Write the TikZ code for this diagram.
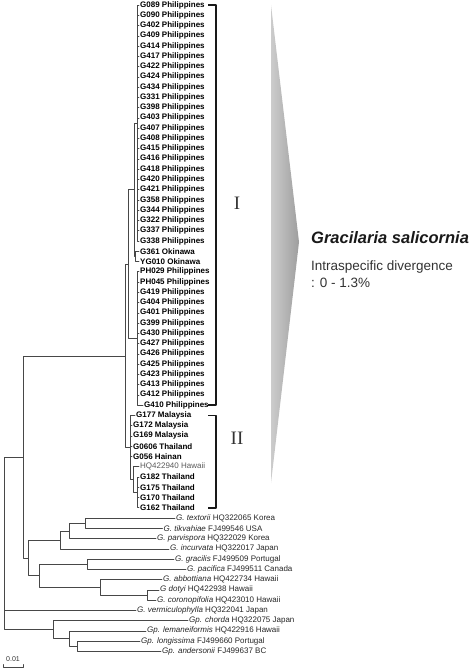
\documentclass[tikz,border=0pt]{standalone}
\usepackage{fontspec}
\setmainfont{Liberation Sans}
\newfontfamily\romfont{Liberation Serif}
\begin{document}
\begin{tikzpicture}[x=1pt, y=-1pt, line join=round, line cap=round,
    br/.style={draw=black!72, line width=0.55pt},
    leaf/.style={anchor=west, inner sep=1pt, font=\fontsize{8}{9}\selectfont\bfseries},
    other/.style={anchor=west, inner sep=1pt, font=\fontsize{8}{9}\selectfont, text=black!85},
    clade/.style={draw=black!90, line width=1.6pt, line cap=butt},
    roman/.style={font=\romfont\fontsize{19}{19}\selectfont, text=black!80}]
\useasboundingbox (0,0) rectangle (474,671);
% ==========================================
% clade I
\foreach \lab [count=\i] in {G089,G090,G402,G409,G414,G417,G422,G424,G434,G331,G398,G403,
    G407,G408,G415,G416,G418,G420,G421,G358,G344,G322,G337,G338}
  \node[leaf] (l\i) at (139,{5+(\i-1)*10.26}) {\lab\ Philippines};
\node[leaf] (l25) at (139,251.24) {G361 Okinawa};
\node[leaf] (l26) at (139,261.50) {YG010 Okinawa};
\foreach \lab [count=\i from 27] in {PH029,PH045,G419,G404,G401,G399,G430,G427,G426,G425,G423,G413,G412}
  \node[leaf] (l\i) at (139,{5+(\i-1)*10.26}) {\lab\ Philippines};
\node[leaf] (l40) at (143,405.14) {G410 Philippines};
\coordinate (philA) at (137,123.0);
\coordinate (okin) at (135,256.4);
\coordinate (philB) at (134,189.7);
\coordinate (philC) at (137,338.45);
\coordinate (cladeI) at (128,264.1);
\foreach \i in {1,...,24} \draw[br] (philA) |- (l\i.west);
\draw[br] (okin) |- (l25.west) (okin) |- (l26.west);
\draw[br] (philB) |- (philA) (philB) |- (okin);
\foreach \i in {27,...,40} \draw[br] (philC) |- (l\i.west);
\draw[br] (cladeI) |- (philB) (cladeI) |- (philC);
% ==========================================
% clade II
\node[leaf] (l41) at (135,415.40) {G177 Malaysia};
\node[leaf] (l42) at (132,425.66) {G172 Malaysia};
\node[leaf] (l43) at (132,435.92) {G169 Malaysia};
\node[leaf] (l44) at (132,446.18) {G0606 Thailand};
\node[leaf] (l45) at (132,456.44) {G056 Hainan};
\node[other, text=black!65] (l46) at (139,466.70) {HQ422940 Hawaii};
\foreach \lab [count=\i from 47] in {G182,G175,G170,G162}
  \node[leaf] (l\i) at (139,{5+(\i-1)*10.26}) {\lab\ Thailand};
\coordinate (thai) at (137,492.35);
\coordinate (hawthai) at (133,479.5);
\coordinate (cladeII) at (130,447.5);
\coordinate (salic) at (125,355.8);
\foreach \i in {47,...,50} \draw[br] (thai) |- (l\i.west);
\draw[br] (hawthai) |- (l46.west) (hawthai) |- (thai);
\foreach \i in {41,...,45} \draw[br] (cladeII) |- (l\i.west);
\draw[br] (cladeII) |- (hawthai);
\draw[br] (salic) |- (cladeI) (salic) |- (cladeII);
% ==========================================
% other Gracilaria
\node[other] (l51) at (175,518.00) {\textit{G. textorii} HQ322065 Korea};
\node[other] (l52) at (162.5,528.26) {\textit{G. tikvahiae} FJ499546 USA};
\node[other] (l53) at (156,538.52) {\textit{G. parvispora} HQ322029 Korea};
\node[other] (l54) at (169,548.78) {\textit{G. incurvata} HQ322017 Japan};
\node[other] (l55) at (174,559.04) {\textit{G. gracilis} FJ499509 Portugal};
\node[other] (l56) at (186,569.30) {\textit{G. pacifica} FJ499511 Canada};
\node[other] (l57) at (162,579.56) {\textit{G. abbottiana} HQ422734 Hawaii};
\node[other] (l58) at (159,589.82) {\textit{G dotyi} HQ422938 Hawaii};
\node[other] (l59) at (156,600.08) {\textit{G. coronopifolia} HQ423010 Hawaii};
\node[other] (l60) at (136,610.34) {\textit{G. vermiculophylla} HQ322041 Japan};
\node[other] (l61) at (188,620.60) {\textit{Gp. chorda} HQ322075 Japan};
\node[other] (l62) at (146,630.86) {\textit{Gp. lemaneiformis} HQ422916 Hawaii};
\node[other] (l63) at (140,641.12) {\textit{Gp. longissima} FJ499660 Portugal};
\node[other] (l64) at (161,651.38) {\textit{Gp. andersonii} FJ499637 BC};
\coordinate (texti) at (85,523.13);
\coordinate (parvi) at (69,530.8);
\coordinate (incur) at (60,539.8);
\coordinate (graci) at (87,564.17);
\coordinate (dotco) at (147,594.95);
\coordinate (abbot) at (100,587.3);
\coordinate (pacgr) at (39,575.7);
\coordinate (gracil) at (28,557.8);
\coordinate (ingrp) at (23,456.8);
\coordinate (longi) at (77,646.25);
\coordinate (leman) at (69,638.6);
\coordinate (gracilp) at (53,629.6);
\coordinate (root) at (4,543.2);
\draw[br] (texti) |- (l51.west) (texti) |- (l52.west);
\draw[br] (parvi) |- (texti) (parvi) |- (l53.west);
\draw[br] (incur) |- (parvi) (incur) |- (l54.west);
\draw[br] (graci) |- (l55.west) (graci) |- (l56.west);
\draw[br] (dotco) |- (l58.west) (dotco) |- (l59.west);
\draw[br] (abbot) |- (l57.west) (abbot) |- (dotco);
\draw[br] (pacgr) |- (graci) (pacgr) |- (abbot);
\draw[br] (gracil) |- (incur) (gracil) |- (pacgr);
\draw[br] (ingrp) |- (salic) (ingrp) |- (gracil);
\draw[br] (longi) |- (l63.west) (longi) |- (l64.west);
\draw[br] (leman) |- (l62.west) (leman) |- (longi);
\draw[br] (gracilp) |- (l61.west) (gracilp) |- (leman);
\draw[br] (root) |- (ingrp) (root) |- (l60.west) (root) |- (gracilp);
% ==========================================
% brackets, arrow and species name
\draw[clade] (208,5) -- (216,5) -- (216,405.14) -- (208,405.14);
\draw[clade] (208,415.4) -- (216,415.4) -- (216,507.74) -- (208,507.74);
\node[roman] (numI) at (237,203) {I};
\node[roman] (numII) at (237,438) {II};
\shade[left color=black!20, right color=black!38] (271,5) -- (299,242) -- (271,483) -- cycle;
\node[anchor=west, inner sep=0pt, text=black!90, font=\fontsize{16.5}{18}\selectfont\bfseries\itshape] (title) at (311,238) {Gracilaria salicornia};
\node[anchor=north west, inner sep=0pt, align=left, text=black!80, font=\fontsize{13.5}{17}\selectfont] (diverg) at (311,261) {Intraspecific divergence\\: 0 - 1.3\%};
% scale bar
\draw[br] (3,664.5) -- (3,667) -- (23,667) -- (23,664.5);
\node[inner sep=0pt, font=\fontsize{7}{8}\selectfont, text=black!80] (scale) at (13,659.5) {0.01};
\end{tikzpicture}
\end{document}
